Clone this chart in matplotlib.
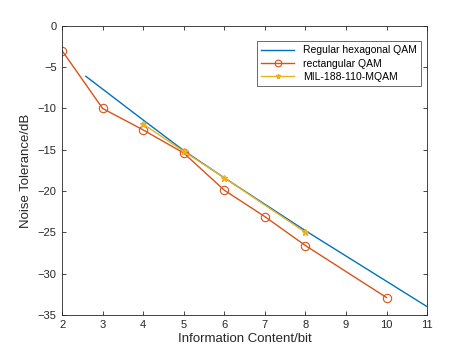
import numpy as np
import matplotlib
matplotlib.use("Agg")
import matplotlib.pyplot as plt

plt.rcParams['font.family'] = ['Liberation Sans', 'DejaVu Sans']

# data
hex_bits = [2.585, 4, 5, 6, 8, 11]
hex_tol = [-6.1, -11.4, -15.1, -18.4, -24.8, -34.0]

rect_bits = [2, 3, 4, 5, 6, 7, 8, 10]
rect_tol = [-3.0, -10.0, -12.6, -15.4, -19.9, -23.1, -26.6, -32.9]

mil_bits = [4, 5, 6, 8]
mil_tol = [-11.9, -15.2, -18.4, -25.0]

xticks = list(range(2, 12))
yticks = list(range(-35, 1, 5))

fig = plt.figure(figsize=(4.74, 3.55), dpi=100)
ax = fig.add_axes([0.131, 0.113, 0.770, 0.814])

ax.plot(hex_bits, hex_tol, color="#0072BD", lw=1.0, label="Regular hexagonal QAM")
ax.plot(rect_bits, rect_tol, color="#D95319", lw=1.0, marker="o", ms=6,
        mfc="none", mew=0.8, label="rectangular QAM")
ax.plot(mil_bits, mil_tol, color="#EDB120", lw=1.0, marker="*", ms=4.5,
        label="MIL-188-110-MQAM")

ax.set_xlim(2, 11)
ax.set_ylim(-35, 0)
ax.set_xticks(xticks)
ax.set_yticks(yticks)
ax.tick_params(direction="in", top=True, right=True, labelsize=8, length=3,
               width=0.6, colors="#262626", pad=4)
for s in ax.spines.values():
    s.set_linewidth(0.6)
    s.set_color("#262626")

ax.set_xlabel("Information Content/bit", fontsize=9.5, color="#262626", labelpad=2)
ax.set_ylabel("Noise Tolerance/dB", fontsize=9.5, color="#262626", labelpad=4)

leg = ax.legend(loc="upper right", bbox_to_anchor=(0.997, 0.965), fontsize=7.5,
                frameon=True, fancybox=False, edgecolor="#262626",
                handlelength=3.2, borderpad=0.4, labelspacing=0.3,
                markerscale=0.8)
leg.get_frame().set_linewidth(0.6)

fig.savefig("out.png", dpi=100)
